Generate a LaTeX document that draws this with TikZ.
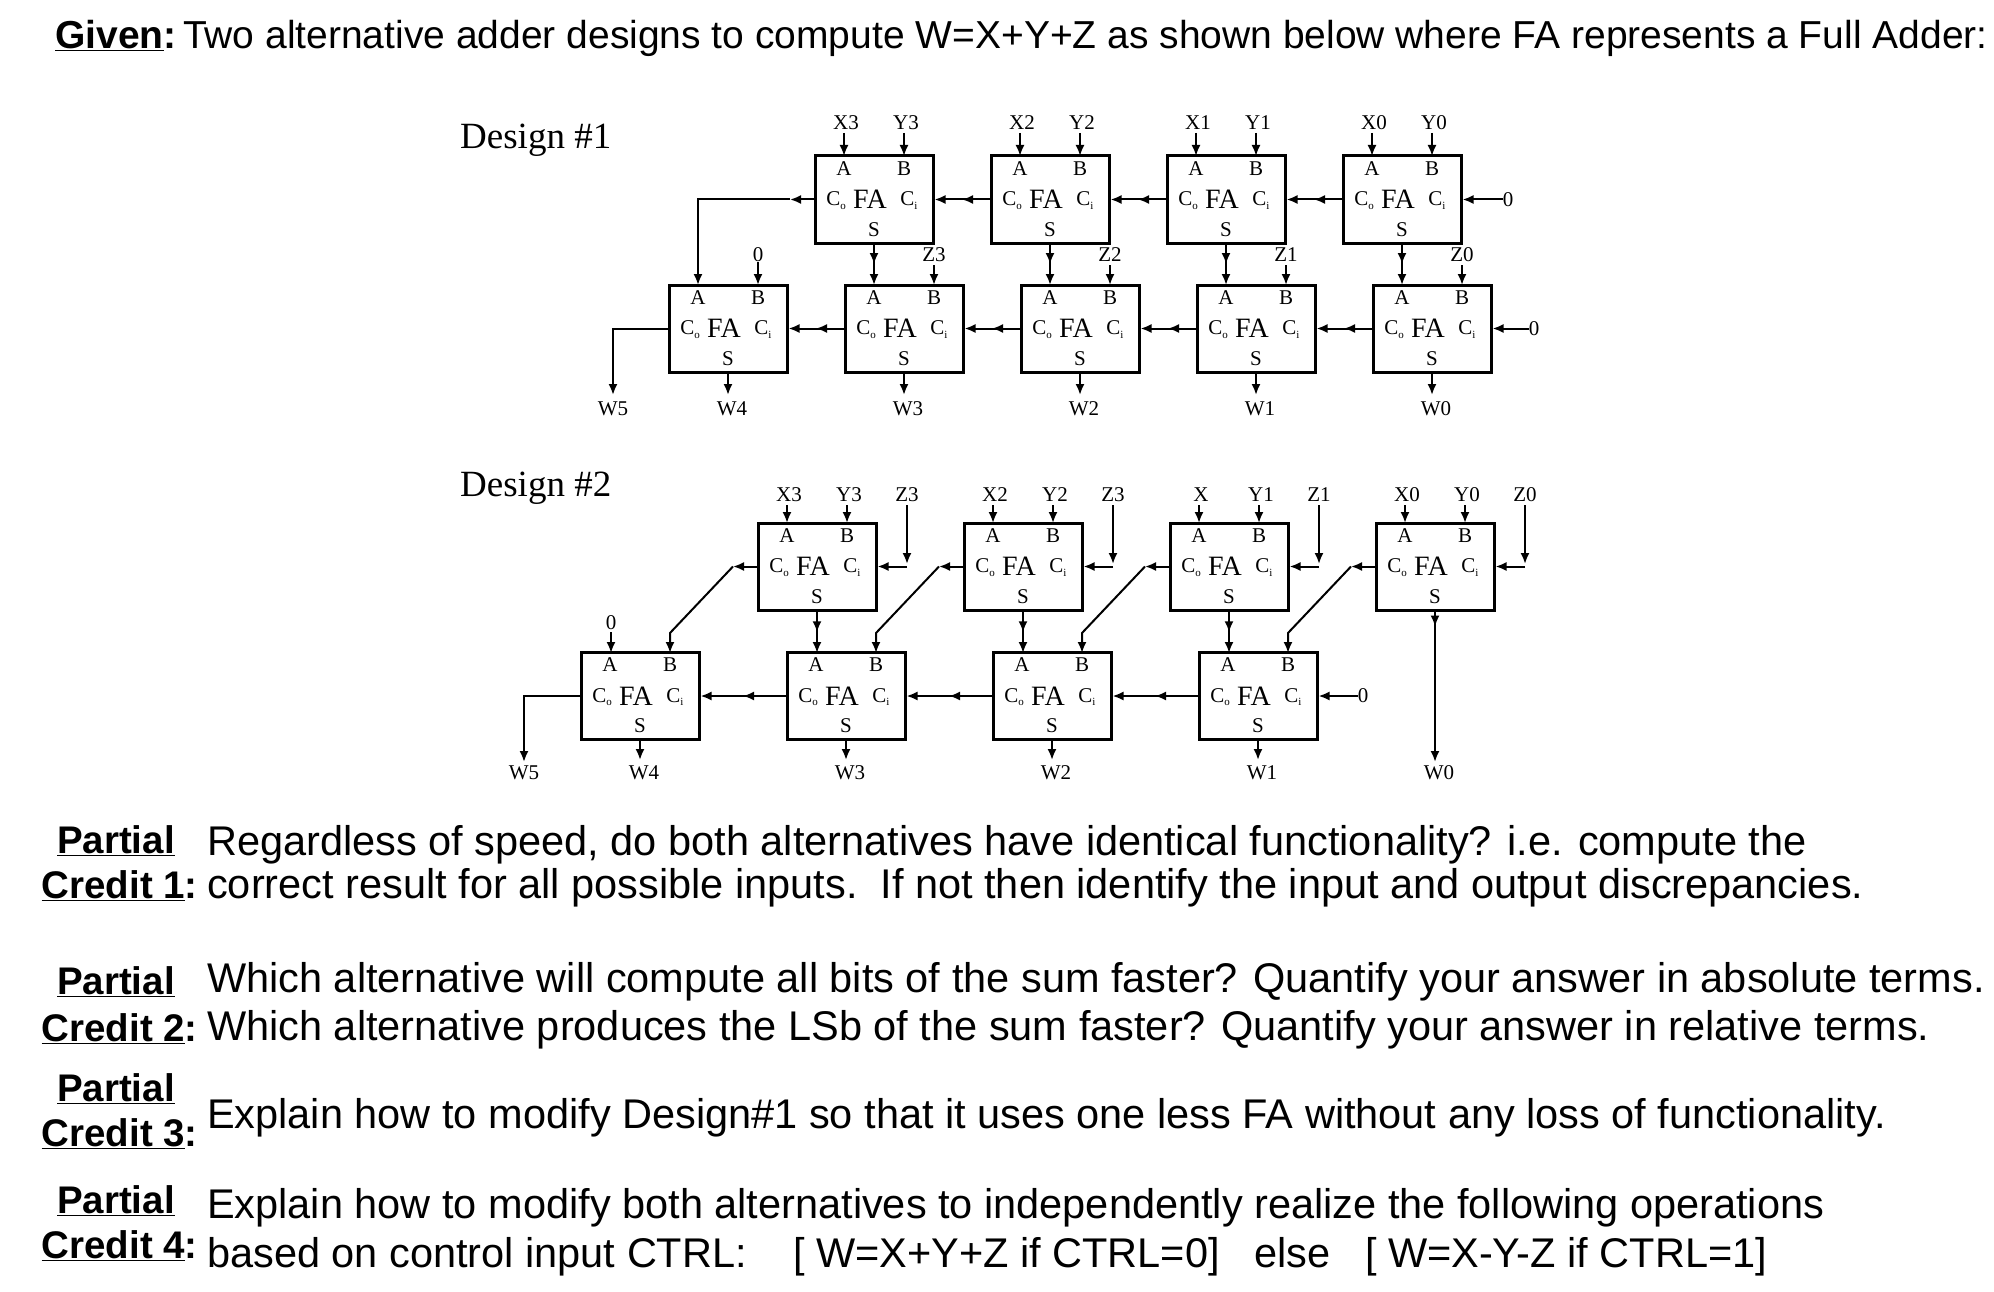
\documentclass[tikz,border=0pt]{standalone}
\usepackage{fontspec}
\setmainfont{Liberation Sans}
\newfontfamily\serf{Liberation Serif}
\usetikzlibrary{arrows.meta,decorations.markings,calc}
\newcommand\myfa[3]{%
 \node[fabox] (#1) at (#2,#3) {};
 \node[lbl] at (#2-30,#3-31) {A};
 \node[lbl] at (#2+30,#3-31) {B};
 \node[lbl] at (#2-38,#3+1) {C\raisebox{-0.35ex}{\fontsize{11}{11}\selectfont o}};
 \node[falbl] at (#2-4,#3) {FA};
 \node[lbl] at (#2+35,#3+1) {C\raisebox{-0.35ex}{\fontsize{11}{11}\selectfont i}};
 \node[lbl] at (#2,#3+30) {S};
}
\begin{document}
\begin{tikzpicture}[x=1pt,y=-1pt,
 fabox/.style={draw,line width=3pt,minimum width=118pt,minimum height=87pt,inner sep=0},
 lbl/.style={font=\serf\fontsize{21}{21}\selectfont,inner sep=0},
 falbl/.style={font=\serf\fontsize{28}{28}\selectfont,inner sep=0},
 io/.style={font=\serf\fontsize{21}{21}\selectfont,inner sep=0},
 wire/.style={line width=2pt},
 arr/.style={wire,-{Latex[length=11pt,width=9pt]}},
 midarr/.style={wire,postaction={decorate},decoration={markings,mark=at position 0.5 with {\arrow{Latex[length=11pt,width=9pt]}}}},
 txt/.style={font=\fontsize{41.5}{41.5}\selectfont,anchor=west,inner sep=0},
 pc/.style={font=\bfseries\fontsize{38.5}{38.5}\selectfont,anchor=east,inner sep=0}]
\useasboundingbox (0,0) rectangle (1994,1292);
% header
\node[font=\fontsize{39}{39}\selectfont,anchor=west,inner sep=0] (hd) at (55,38) {\textbf{\underline{Given}:}\,Two alternative adder designs to compute W=X+Y+Z as shown below where FA represents a Full Adder:};
% ===== Design 1
\node[font=\serf\fontsize{37}{37}\selectfont,anchor=west,inner sep=0] (d1) at (460,140) {Design \#1};
\foreach \i/\b in {0/3,1/2,2/1,3/0}{
 \pgfmathsetmacro\cx{874+176*\i}
 \myfa{t\i}{\cx}{199.5}
 \node[io] (x\i) at (\cx-28,123) {X\b};
 \node[io] (y\i) at (\cx+32,123) {Y\b};
 \draw[arr] (\cx-30,133) -- (\cx-30,156);
 \draw[arr] (\cx+30,133) -- (\cx+30,156);
 \pgfmathsetmacro\bx{904+176*\i}
 \node[io] (z\i) at (\bx+30,255) {Z\b};
 \draw[arr] (\bx+30,265) -- (\bx+30,285);
 \draw[midarr,arr] (\cx,243) -- (\cx,285);
}
\foreach \j/\w in {0/4,1/3,2/2,3/1,4/0}{
 \pgfmathsetmacro\cx{728+176*\j}
 \myfa{b\j}{\cx}{328.5}
 \draw[arr] (\cx,372) -- (\cx,395);
 \node[io] (w\j) at (\cx+4,409) {W\w};
}
\node[io] (zz) at (758,255) {0};
\draw[arr] (zz) -- (758,285);
\foreach \i/\k in {0/1,1/2,2/3}{\draw[midarr,arr] (t\k.west) -- (t\i.east);}
\foreach \i/\k in {0/1,1/2,2/3,3/4}{\draw[midarr,arr] (b\k.west) -- (b\i.east);}
\node[io] (c0) at (1508,199.5) {0};
\draw[arr] (c0) -- (t3.east);
\node[io] (c1) at (1534,328.5) {0};
\draw[arr] (c1) -- (b4.east);
\coordinate (k1) at (698,199.5);
\draw[wire,-{Latex[length=11pt,width=9pt]}] (t0.west) -- (790,199.5);
\draw[arr] (790,199.5) -- (k1) -- (698,285);
\draw[arr] (b0.west) -- (613,328.5) -- (613,395);
\node[io] (w5) at (613,409) {W5};
% ===== Design 2
\node[font=\serf\fontsize{37}{37}\selectfont,anchor=west,inner sep=0] (d2) at (460,488) {Design \#2};
\foreach \i/\xl/\yl/\zl in {0/X3/Y3/Z3,1/X2/Y2/Z3,2/X/Y1/Z1,3/X0/Y0/Z0}{
 \pgfmathsetmacro\cx{817+206*\i}
 \myfa{u\i}{\cx}{566.5}
 \node[io] (p\i) at (\cx-28,495) {\xl};
 \node[io] (q\i) at (\cx+32,495) {\yl};
 \node[io] (r\i) at (\cx+90,495) {\zl};
 \draw[arr] (\cx-30,505) -- (\cx-30,523);
 \draw[arr] (\cx+30,505) -- (\cx+30,523);
 \draw[arr] (\cx+90,505) -- (\cx+90,564);
 \draw[arr] (\cx+90,566.5) -- (u\i.east);
}
\foreach \j/\w in {0/4,1/3,2/2,3/1}{
 \pgfmathsetmacro\cx{640+206*\j}
 \myfa{v\j}{\cx}{696}
 \draw[arr] (\cx,739) -- (\cx,760);
 \node[io] (m\j) at (\cx+4,773) {W\w};
}
\foreach \i/\k in {0/1,1/2,2/3}{
 \pgfmathsetmacro\cx{817+206*\i}
 \draw[midarr,arr] (u\i.south) -- (\cx,653);
 \draw[midarr,arr] (v\k.west) -- (v\i.east);
}
\foreach \i in {0,1,2,3}{
 \pgfmathsetmacro\cx{817+206*\i}
 \pgfmathsetmacro\bx{670+206*\i}
 \draw[wire,-{Latex[length=11pt,width=9pt]}] (u\i.west) -- (\cx-84,566.5);
 \draw[arr] (\cx-84,566.5) -- (\bx,633) -- (\bx,653);
}
\draw[wire,postaction={decorate},decoration={markings,mark=at position 0.1 with {\arrow{Latex[length=11pt,width=9pt]}}},-{Latex[length=11pt,width=9pt]}] (u3.south) -- (1435,762);
\node[io] (w0b) at (1439,773) {W0};
\node[io] (o1) at (611,623) {0};
\draw[arr] (611,632) -- (611,653);
\node[io] (o2) at (1363,696) {0};
\draw[arr] (o2) -- (v3.east);
\draw[arr] (v0.west) -- (524,696) -- (524,762);
\node[io] (w5b) at (524,773) {W5};
% ===== Questions
\node[pc] (a1) at (175,841) {\underline{Partial}};
\node[pc] (b1) at (198,886) {\underline{Credit 1}:};
\node[txt] (t1) at (207,845) {Regardless of speed, do both alternatives have identical functionality? i.e. compute the};
\node[txt] (t1b) at (207,888) {correct result for all possible inputs.\ \ If not then identify the input and output discrepancies.};
\node[pc] (a2) at (175,982) {\underline{Partial}};
\node[pc] (b2) at (198,1029) {\underline{Credit 2}:};
\node[txt] (t2) at (207,982) {Which alternative will compute all bits of the sum faster? Quantify your answer in absolute terms.};
\node[txt] (t2b) at (207,1030) {Which alternative produces the LSb of the sum faster? Quantify your answer in relative terms.};
\node[pc] (a3) at (175,1089) {\underline{Partial}};
\node[pc] (b3) at (198,1134) {\underline{Credit 3}:};
\node[txt] (t3) at (207,1118) {Explain how to modify Design\#1 so that it uses one less FA without any loss of functionality.};
\node[pc] (a4) at (175,1201) {\underline{Partial}};
\node[pc] (b4x) at (198,1246) {\underline{Credit 4}:};
\node[txt] (t4) at (207,1208) {Explain how to modify both alternatives to independently realize the following operations};
\node[txt] (t4b) at (207,1257) {based on control input CTRL:\ \ \ \ [ W=X+Y+Z if CTRL=0]\ \ \ else\ \ \ [ W=X-Y-Z if CTRL=1]};
\end{tikzpicture}
\end{document}
